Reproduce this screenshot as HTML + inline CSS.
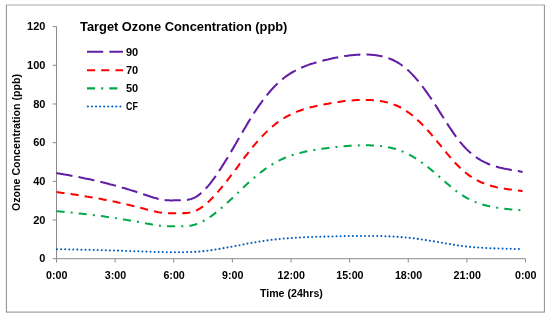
<!DOCTYPE html>
<html lang="en">
<head>
<meta charset="utf-8">
<title>Target Ozone Concentration (ppb)</title>
<style>
html,body{margin:0;padding:0;background:#fff;}
body{width:550px;height:316px;overflow:hidden;}
svg{display:block;}
text{font-family:'Liberation Sans', Arial, sans-serif;font-weight:bold;fill:#000;}
.lbl{font-size:11px;}
.ax{stroke:#8a8a8a;stroke-width:1;fill:none;}
.c{fill:none;stroke-width:2.05;stroke-linejoin:round;}
</style>
</head>
<body>
<svg width="550" height="316" viewBox="0 0 550 316">
<rect x="0" y="0" width="550" height="316" fill="#ffffff"/>
<path d="M6.4,5 V312.1 M544.4,5 V312.1" fill="none" stroke="#8c8c8c" stroke-width="1"/>
<path d="M5.9,5 H544.9" fill="none" stroke="#a8a8a8" stroke-width="1"/>
<path d="M5.9,312.1 H544.9" fill="none" stroke="#8c8c8c" stroke-width="1"/>

<path class="ax" d="M56.5,26.6 V258.7 H525.5"/>
<path class="ax" d="M52.7,258.70 H56.5 M52.7,220.02 H56.5 M52.7,181.33 H56.5 M52.7,142.65 H56.5 M52.7,103.97 H56.5 M52.7,65.28 H56.5 M52.7,26.60 H56.5 M56.50,258.7 V262.5 M115.12,258.7 V262.5 M173.75,258.7 V262.5 M232.38,258.7 V262.5 M291.00,258.7 V262.5 M349.62,258.7 V262.5 M408.25,258.7 V262.5 M466.88,258.7 V262.5 M525.50,258.7 V262.5"/>
<text class="lbl" x="45.4" y="262.35" text-anchor="end">0</text>
<text class="lbl" x="45.4" y="223.67" text-anchor="end">20</text>
<text class="lbl" x="45.4" y="184.98" text-anchor="end">40</text>
<text class="lbl" x="45.4" y="146.30" text-anchor="end">60</text>
<text class="lbl" x="45.4" y="107.62" text-anchor="end">80</text>
<text class="lbl" x="45.4" y="68.93" text-anchor="end">100</text>
<text class="lbl" x="45.4" y="30.25" text-anchor="end">120</text>
<text class="lbl" x="56.8" y="278.7" text-anchor="middle" textLength="21.4" lengthAdjust="spacingAndGlyphs">0:00</text>
<text class="lbl" x="115.4" y="278.7" text-anchor="middle" textLength="21.4" lengthAdjust="spacingAndGlyphs">3:00</text>
<text class="lbl" x="174.1" y="278.7" text-anchor="middle" textLength="21.4" lengthAdjust="spacingAndGlyphs">6:00</text>
<text class="lbl" x="232.7" y="278.7" text-anchor="middle" textLength="21.4" lengthAdjust="spacingAndGlyphs">9:00</text>
<text class="lbl" x="291.3" y="278.7" text-anchor="middle" textLength="27.4" lengthAdjust="spacingAndGlyphs">12:00</text>
<text class="lbl" x="349.9" y="278.7" text-anchor="middle" textLength="27.4" lengthAdjust="spacingAndGlyphs">15:00</text>
<text class="lbl" x="408.6" y="278.7" text-anchor="middle" textLength="27.4" lengthAdjust="spacingAndGlyphs">18:00</text>
<text class="lbl" x="467.2" y="278.7" text-anchor="middle" textLength="27.4" lengthAdjust="spacingAndGlyphs">21:00</text>
<text class="lbl" x="525.8" y="278.7" text-anchor="middle" textLength="21.4" lengthAdjust="spacingAndGlyphs">0:00</text>
<text x="80" y="31.2" font-size="12.85" textLength="207.4" lengthAdjust="spacingAndGlyphs">Target Ozone Concentration (ppb)</text>
<text x="291.4" y="297.1" font-size="10.8" text-anchor="middle" textLength="63" lengthAdjust="spacingAndGlyphs">Time (24hrs)</text>
<text transform="translate(20.3,142.5) rotate(-90)" font-size="10.6" text-anchor="middle" textLength="137" lengthAdjust="spacingAndGlyphs">Ozone Concentration (ppb)</text>
<path class="c" stroke="#621ea4" stroke-dasharray="16.24 6.09" d="M56.5,173.1 L58.0,173.4 L59.5,173.6 L61.0,173.9 L62.5,174.1 L64.0,174.4 L65.5,174.6 L67.0,174.9 L68.5,175.1 L70.0,175.4 L71.5,175.7 L73.0,176.0 L74.5,176.3 L76.0,176.5 L77.5,176.8 L79.0,177.1 L80.5,177.4 L82.0,177.7 L83.5,178.0 L85.0,178.4 L86.5,178.7 L88.0,179.0 L89.5,179.3 L91.0,179.6 L92.5,180.0 L94.0,180.3 L95.5,180.7 L97.0,181.0 L98.5,181.4 L100.0,181.7 L101.5,182.1 L103.0,182.4 L104.5,182.8 L106.0,183.2 L107.5,183.6 L109.0,184.0 L110.5,184.4 L112.0,184.7 L113.5,185.1 L115.0,185.6 L116.5,186.0 L118.0,186.4 L119.5,186.8 L121.0,187.2 L122.5,187.7 L124.0,188.1 L125.5,188.5 L127.0,189.0 L128.5,189.4 L130.0,189.9 L131.5,190.4 L133.0,190.8 L134.5,191.3 L136.0,191.8 L137.5,192.3 L139.0,192.7 L140.5,193.2 L142.0,193.7 L143.5,194.2 L145.0,194.8 L146.5,195.3 L148.0,195.8 L149.5,196.3 L151.0,196.8 L152.5,197.2 L154.0,197.7 L155.5,198.1 L157.0,198.5 L158.5,198.9 L160.0,199.2 L161.5,199.5 L163.0,199.8 L164.5,200.0 L166.0,200.2 L167.5,200.3 L169.0,200.3 L170.5,200.4 L172.0,200.4 L173.5,200.3 L175.0,200.3 L176.5,200.3 L178.0,200.3 L179.5,200.3 L181.0,200.2 L182.5,200.2 L184.0,200.1 L185.5,200.0 L187.0,199.9 L188.5,199.6 L190.0,199.3 L191.5,198.9 L193.0,198.3 L194.5,197.6 L196.0,196.8 L197.5,195.9 L199.0,194.8 L200.5,193.6 L202.0,192.3 L203.5,190.9 L205.0,189.4 L206.5,187.8 L208.0,186.1 L209.5,184.3 L211.0,182.4 L212.5,180.4 L214.0,178.4 L215.5,176.3 L217.0,174.1 L218.5,171.9 L220.0,169.6 L221.5,167.3 L223.0,164.9 L224.5,162.5 L226.0,160.1 L227.5,157.7 L229.0,155.2 L230.5,152.6 L232.0,150.1 L233.5,147.6 L235.0,145.0 L236.5,142.4 L238.0,139.8 L239.5,137.3 L241.0,134.7 L242.5,132.1 L244.0,129.5 L245.5,127.0 L247.0,124.4 L248.5,121.9 L250.0,119.5 L251.5,117.0 L253.0,114.6 L254.5,112.3 L256.0,110.1 L257.5,107.8 L259.0,105.7 L260.5,103.6 L262.0,101.5 L263.5,99.5 L265.0,97.6 L266.5,95.7 L268.0,93.8 L269.5,92.0 L271.0,90.3 L272.5,88.6 L274.0,87.0 L275.5,85.4 L277.0,84.0 L278.5,82.5 L280.0,81.2 L281.5,79.9 L283.0,78.7 L284.5,77.5 L286.0,76.4 L287.5,75.3 L289.0,74.3 L290.5,73.4 L292.0,72.5 L293.5,71.6 L295.0,70.8 L296.5,70.0 L298.0,69.2 L299.5,68.5 L301.0,67.8 L302.5,67.2 L304.0,66.6 L305.5,66.0 L307.0,65.4 L308.5,64.9 L310.0,64.3 L311.5,63.8 L313.0,63.4 L314.5,62.9 L316.0,62.5 L317.5,62.1 L319.0,61.6 L320.5,61.2 L322.0,60.9 L323.5,60.5 L325.0,60.1 L326.5,59.7 L328.0,59.4 L329.5,59.0 L331.0,58.7 L332.5,58.3 L334.0,58.0 L335.5,57.7 L337.0,57.4 L338.5,57.1 L340.0,56.9 L341.5,56.6 L343.0,56.3 L344.5,56.1 L346.0,55.9 L347.5,55.7 L349.0,55.5 L350.5,55.3 L352.0,55.2 L353.5,55.0 L355.0,54.9 L356.5,54.8 L358.0,54.7 L359.5,54.6 L361.0,54.6 L362.5,54.5 L364.0,54.5 L365.5,54.5 L367.0,54.5 L368.5,54.6 L370.0,54.7 L371.5,54.7 L373.0,54.9 L374.5,55.0 L376.0,55.2 L377.5,55.4 L379.0,55.7 L380.5,55.9 L382.0,56.3 L383.5,56.6 L385.0,57.1 L386.5,57.5 L388.0,58.0 L389.5,58.6 L391.0,59.2 L392.5,59.8 L394.0,60.5 L395.5,61.3 L397.0,62.1 L398.5,63.0 L400.0,64.0 L401.5,65.0 L403.0,66.1 L404.5,67.2 L406.0,68.5 L407.5,69.8 L409.0,71.1 L410.5,72.6 L412.0,74.1 L413.5,75.7 L415.0,77.4 L416.5,79.1 L418.0,80.9 L419.5,82.7 L421.0,84.6 L422.5,86.5 L424.0,88.5 L425.5,90.6 L427.0,92.7 L428.5,94.8 L430.0,97.0 L431.5,99.2 L433.0,101.4 L434.5,103.7 L436.0,106.0 L437.5,108.4 L439.0,110.7 L440.5,113.1 L442.0,115.5 L443.5,117.8 L445.0,120.2 L446.5,122.5 L448.0,124.9 L449.5,127.2 L451.0,129.4 L452.5,131.6 L454.0,133.8 L455.5,135.9 L457.0,138.0 L458.5,139.9 L460.0,141.8 L461.5,143.6 L463.0,145.4 L464.5,147.0 L466.0,148.6 L467.5,150.1 L469.0,151.5 L470.5,152.8 L472.0,154.1 L473.5,155.3 L475.0,156.4 L476.5,157.5 L478.0,158.5 L479.5,159.4 L481.0,160.3 L482.5,161.1 L484.0,161.9 L485.5,162.6 L487.0,163.3 L488.5,164.0 L490.0,164.6 L491.5,165.1 L493.0,165.7 L494.5,166.1 L496.0,166.6 L497.5,167.0 L499.0,167.4 L500.5,167.8 L502.0,168.1 L503.5,168.5 L505.0,168.8 L506.5,169.1 L508.0,169.3 L509.5,169.6 L511.0,169.9 L512.5,170.1 L514.0,170.4 L515.5,170.6 L517.0,170.9 L518.5,171.1 L520.0,171.4 L521.5,171.7 L522.6,171.9"/>
<path class="c" stroke="#ff0000" stroke-dasharray="8.12 6.09" d="M56.5,192.1 L58.0,192.3 L59.5,192.5 L61.0,192.7 L62.5,192.9 L64.0,193.1 L65.5,193.3 L67.0,193.5 L68.5,193.7 L70.0,193.9 L71.5,194.1 L73.0,194.4 L74.5,194.6 L76.0,194.8 L77.5,195.0 L79.0,195.3 L80.5,195.5 L82.0,195.7 L83.5,196.0 L85.0,196.2 L86.5,196.5 L88.0,196.7 L89.5,197.0 L91.0,197.2 L92.5,197.5 L94.0,197.7 L95.5,198.0 L97.0,198.3 L98.5,198.5 L100.0,198.8 L101.5,199.1 L103.0,199.4 L104.5,199.7 L106.0,200.0 L107.5,200.3 L109.0,200.6 L110.5,200.9 L112.0,201.2 L113.5,201.5 L115.0,201.8 L116.5,202.1 L118.0,202.5 L119.5,202.8 L121.0,203.1 L122.5,203.4 L124.0,203.8 L125.5,204.1 L127.0,204.5 L128.5,204.8 L130.0,205.2 L131.5,205.5 L133.0,205.9 L134.5,206.3 L136.0,206.6 L137.5,207.0 L139.0,207.4 L140.5,207.8 L142.0,208.2 L143.5,208.6 L145.0,209.0 L146.5,209.4 L148.0,209.8 L149.5,210.1 L151.0,210.5 L152.5,210.9 L154.0,211.2 L155.5,211.6 L157.0,211.9 L158.5,212.2 L160.0,212.4 L161.5,212.7 L163.0,212.9 L164.5,213.0 L166.0,213.2 L167.5,213.3 L169.0,213.3 L170.5,213.3 L172.0,213.3 L173.5,213.3 L175.0,213.3 L176.5,213.3 L178.0,213.3 L179.5,213.2 L181.0,213.2 L182.5,213.2 L184.0,213.1 L185.5,213.1 L187.0,212.9 L188.5,212.8 L190.0,212.5 L191.5,212.2 L193.0,211.7 L194.5,211.2 L196.0,210.6 L197.5,209.8 L199.0,209.0 L200.5,208.1 L202.0,207.1 L203.5,206.0 L205.0,204.8 L206.5,203.5 L208.0,202.2 L209.5,200.8 L211.0,199.3 L212.5,197.8 L214.0,196.2 L215.5,194.6 L217.0,192.9 L218.5,191.2 L220.0,189.4 L221.5,187.6 L223.0,185.8 L224.5,183.9 L226.0,182.0 L227.5,180.1 L229.0,178.2 L230.5,176.2 L232.0,174.2 L233.5,172.3 L235.0,170.3 L236.5,168.3 L238.0,166.3 L239.5,164.2 L241.0,162.2 L242.5,160.2 L244.0,158.2 L245.5,156.2 L247.0,154.3 L248.5,152.3 L250.0,150.4 L251.5,148.5 L253.0,146.7 L254.5,144.9 L256.0,143.1 L257.5,141.4 L259.0,139.7 L260.5,138.0 L262.0,136.4 L263.5,134.9 L265.0,133.4 L266.5,131.9 L268.0,130.5 L269.5,129.1 L271.0,127.7 L272.5,126.4 L274.0,125.2 L275.5,123.9 L277.0,122.8 L278.5,121.7 L280.0,120.6 L281.5,119.6 L283.0,118.7 L284.5,117.8 L286.0,116.9 L287.5,116.1 L289.0,115.3 L290.5,114.6 L292.0,113.8 L293.5,113.2 L295.0,112.5 L296.5,111.9 L298.0,111.3 L299.5,110.8 L301.0,110.2 L302.5,109.7 L304.0,109.3 L305.5,108.8 L307.0,108.4 L308.5,107.9 L310.0,107.5 L311.5,107.1 L313.0,106.8 L314.5,106.4 L316.0,106.1 L317.5,105.8 L319.0,105.4 L320.5,105.1 L322.0,104.8 L323.5,104.5 L325.0,104.2 L326.5,103.9 L328.0,103.7 L329.5,103.4 L331.0,103.1 L332.5,102.9 L334.0,102.6 L335.5,102.4 L337.0,102.1 L338.5,101.9 L340.0,101.7 L341.5,101.5 L343.0,101.3 L344.5,101.1 L346.0,101.0 L347.5,100.8 L349.0,100.7 L350.5,100.5 L352.0,100.4 L353.5,100.3 L355.0,100.2 L356.5,100.1 L358.0,100.0 L359.5,100.0 L361.0,99.9 L362.5,99.9 L364.0,99.9 L365.5,99.9 L367.0,99.9 L368.5,99.9 L370.0,100.0 L371.5,100.1 L373.0,100.2 L374.5,100.3 L376.0,100.4 L377.5,100.6 L379.0,100.8 L380.5,101.0 L382.0,101.3 L383.5,101.5 L385.0,101.9 L386.5,102.2 L388.0,102.6 L389.5,103.0 L391.0,103.5 L392.5,104.0 L394.0,104.6 L395.5,105.2 L397.0,105.8 L398.5,106.5 L400.0,107.2 L401.5,108.0 L403.0,108.9 L404.5,109.8 L406.0,110.7 L407.5,111.8 L409.0,112.8 L410.5,114.0 L412.0,115.1 L413.5,116.4 L415.0,117.7 L416.5,119.0 L418.0,120.4 L419.5,121.8 L421.0,123.3 L422.5,124.8 L424.0,126.3 L425.5,127.9 L427.0,129.6 L428.5,131.2 L430.0,132.9 L431.5,134.6 L433.0,136.4 L434.5,138.1 L436.0,139.9 L437.5,141.8 L439.0,143.6 L440.5,145.4 L442.0,147.3 L443.5,149.1 L445.0,151.0 L446.5,152.8 L448.0,154.6 L449.5,156.4 L451.0,158.1 L452.5,159.9 L454.0,161.6 L455.5,163.2 L457.0,164.8 L458.5,166.3 L460.0,167.8 L461.5,169.2 L463.0,170.6 L464.5,171.8 L466.0,173.0 L467.5,174.2 L469.0,175.3 L470.5,176.3 L472.0,177.3 L473.5,178.2 L475.0,179.1 L476.5,180.0 L478.0,180.7 L479.5,181.5 L481.0,182.2 L482.5,182.8 L484.0,183.4 L485.5,184.0 L487.0,184.5 L488.5,185.0 L490.0,185.5 L491.5,185.9 L493.0,186.3 L494.5,186.7 L496.0,187.1 L497.5,187.4 L499.0,187.7 L500.5,188.0 L502.0,188.3 L503.5,188.5 L505.0,188.8 L506.5,189.0 L508.0,189.2 L509.5,189.4 L511.0,189.6 L512.5,189.8 L514.0,190.0 L515.5,190.2 L517.0,190.4 L518.5,190.6 L520.0,190.8 L521.5,191.0 L522.6,191.2"/>
<path class="c" stroke="#00aa4a" stroke-dasharray="8.12 6.09 2.03 6.09" d="M56.5,211.2 L58.0,211.3 L59.5,211.4 L61.0,211.6 L62.5,211.7 L64.0,211.8 L65.5,212.0 L67.0,212.1 L68.5,212.3 L70.0,212.4 L71.5,212.6 L73.0,212.7 L74.5,212.9 L76.0,213.1 L77.5,213.2 L79.0,213.4 L80.5,213.5 L82.0,213.7 L83.5,213.9 L85.0,214.1 L86.5,214.2 L88.0,214.4 L89.5,214.6 L91.0,214.8 L92.5,215.0 L94.0,215.2 L95.5,215.3 L97.0,215.5 L98.5,215.7 L100.0,215.9 L101.5,216.1 L103.0,216.3 L104.5,216.5 L106.0,216.8 L107.5,217.0 L109.0,217.2 L110.5,217.4 L112.0,217.6 L113.5,217.8 L115.0,218.1 L116.5,218.3 L118.0,218.5 L119.5,218.8 L121.0,219.0 L122.5,219.2 L124.0,219.5 L125.5,219.7 L127.0,220.0 L128.5,220.2 L130.0,220.5 L131.5,220.7 L133.0,221.0 L134.5,221.3 L136.0,221.5 L137.5,221.8 L139.0,222.1 L140.5,222.3 L142.0,222.6 L143.5,222.9 L145.0,223.2 L146.5,223.5 L148.0,223.7 L149.5,224.0 L151.0,224.3 L152.5,224.6 L154.0,224.8 L155.5,225.0 L157.0,225.3 L158.5,225.5 L160.0,225.7 L161.5,225.8 L163.0,226.0 L164.5,226.1 L166.0,226.2 L167.5,226.2 L169.0,226.3 L170.5,226.3 L172.0,226.3 L173.5,226.3 L175.0,226.3 L176.5,226.2 L178.0,226.2 L179.5,226.2 L181.0,226.2 L182.5,226.2 L184.0,226.2 L185.5,226.1 L187.0,226.0 L188.5,225.9 L190.0,225.7 L191.5,225.5 L193.0,225.1 L194.5,224.8 L196.0,224.3 L197.5,223.8 L199.0,223.2 L200.5,222.6 L202.0,221.8 L203.5,221.0 L205.0,220.2 L206.5,219.3 L208.0,218.3 L209.5,217.3 L211.0,216.3 L212.5,215.2 L214.0,214.1 L215.5,212.9 L217.0,211.7 L218.5,210.5 L220.0,209.2 L221.5,207.9 L223.0,206.6 L224.5,205.3 L226.0,203.9 L227.5,202.6 L229.0,201.2 L230.5,199.8 L232.0,198.4 L233.5,197.0 L235.0,195.5 L236.5,194.1 L238.0,192.7 L239.5,191.2 L241.0,189.8 L242.5,188.4 L244.0,186.9 L245.5,185.5 L247.0,184.1 L248.5,182.7 L250.0,181.3 L251.5,180.0 L253.0,178.7 L254.5,177.4 L256.0,176.1 L257.5,174.9 L259.0,173.7 L260.5,172.5 L262.0,171.4 L263.5,170.3 L265.0,169.2 L266.5,168.1 L268.0,167.1 L269.5,166.1 L271.0,165.1 L272.5,164.2 L274.0,163.3 L275.5,162.4 L277.0,161.6 L278.5,160.8 L280.0,160.1 L281.5,159.4 L283.0,158.7 L284.5,158.0 L286.0,157.4 L287.5,156.8 L289.0,156.3 L290.5,155.7 L292.0,155.2 L293.5,154.7 L295.0,154.3 L296.5,153.8 L298.0,153.4 L299.5,153.0 L301.0,152.7 L302.5,152.3 L304.0,152.0 L305.5,151.6 L307.0,151.3 L308.5,151.0 L310.0,150.7 L311.5,150.4 L313.0,150.2 L314.5,149.9 L316.0,149.7 L317.5,149.5 L319.0,149.2 L320.5,149.0 L322.0,148.8 L323.5,148.6 L325.0,148.4 L326.5,148.2 L328.0,148.0 L329.5,147.8 L331.0,147.6 L332.5,147.4 L334.0,147.2 L335.5,147.0 L337.0,146.9 L338.5,146.7 L340.0,146.6 L341.5,146.4 L343.0,146.3 L344.5,146.2 L346.0,146.0 L347.5,145.9 L349.0,145.8 L350.5,145.7 L352.0,145.6 L353.5,145.5 L355.0,145.5 L356.5,145.4 L358.0,145.4 L359.5,145.3 L361.0,145.3 L362.5,145.3 L364.0,145.3 L365.5,145.3 L367.0,145.3 L368.5,145.3 L370.0,145.3 L371.5,145.4 L373.0,145.5 L374.5,145.5 L376.0,145.6 L377.5,145.8 L379.0,145.9 L380.5,146.1 L382.0,146.2 L383.5,146.4 L385.0,146.7 L386.5,146.9 L388.0,147.2 L389.5,147.5 L391.0,147.8 L392.5,148.2 L394.0,148.6 L395.5,149.0 L397.0,149.5 L398.5,150.0 L400.0,150.5 L401.5,151.1 L403.0,151.7 L404.5,152.3 L406.0,153.0 L407.5,153.7 L409.0,154.5 L410.5,155.3 L412.0,156.2 L413.5,157.0 L415.0,158.0 L416.5,158.9 L418.0,159.9 L419.5,160.9 L421.0,162.0 L422.5,163.1 L424.0,164.2 L425.5,165.3 L427.0,166.5 L428.5,167.6 L430.0,168.8 L431.5,170.1 L433.0,171.3 L434.5,172.6 L436.0,173.9 L437.5,175.2 L439.0,176.5 L440.5,177.8 L442.0,179.1 L443.5,180.4 L445.0,181.7 L446.5,183.1 L448.0,184.3 L449.5,185.6 L451.0,186.9 L452.5,188.1 L454.0,189.3 L455.5,190.5 L457.0,191.6 L458.5,192.7 L460.0,193.8 L461.5,194.8 L463.0,195.7 L464.5,196.7 L466.0,197.5 L467.5,198.3 L469.0,199.1 L470.5,199.9 L472.0,200.6 L473.5,201.2 L475.0,201.9 L476.5,202.5 L478.0,203.0 L479.5,203.5 L481.0,204.0 L482.5,204.5 L484.0,204.9 L485.5,205.3 L487.0,205.7 L488.5,206.1 L490.0,206.4 L491.5,206.7 L493.0,207.0 L494.5,207.3 L496.0,207.5 L497.5,207.8 L499.0,208.0 L500.5,208.2 L502.0,208.4 L503.5,208.6 L505.0,208.7 L506.5,208.9 L508.0,209.1 L509.5,209.2 L511.0,209.4 L512.5,209.5 L514.0,209.6 L515.5,209.8 L517.0,209.9 L518.5,210.0 L520.0,210.2 L521.5,210.3 L522.6,210.5"/>
<path class="c" stroke="#005ec6" stroke-width="2.15" stroke-linecap="round" stroke-dasharray="0.01 4.06" stroke-dashoffset="-0.5" d="M56.5,249.2 L58.0,249.2 L59.5,249.2 L61.0,249.2 L62.5,249.3 L64.0,249.3 L65.5,249.3 L67.0,249.4 L68.5,249.4 L70.0,249.4 L71.5,249.4 L73.0,249.5 L74.5,249.5 L76.0,249.5 L77.5,249.6 L79.0,249.6 L80.5,249.6 L82.0,249.7 L83.5,249.7 L85.0,249.7 L86.5,249.8 L88.0,249.8 L89.5,249.8 L91.0,249.9 L92.5,249.9 L94.0,250.0 L95.5,250.0 L97.0,250.0 L98.5,250.1 L100.0,250.1 L101.5,250.2 L103.0,250.2 L104.5,250.2 L106.0,250.3 L107.5,250.3 L109.0,250.4 L110.5,250.4 L112.0,250.5 L113.5,250.5 L115.0,250.5 L116.5,250.6 L118.0,250.6 L119.5,250.7 L121.0,250.7 L122.5,250.8 L124.0,250.8 L125.5,250.9 L127.0,250.9 L128.5,251.0 L130.0,251.0 L131.5,251.1 L133.0,251.1 L134.5,251.2 L136.0,251.2 L137.5,251.3 L139.0,251.3 L140.5,251.4 L142.0,251.5 L143.5,251.5 L145.0,251.6 L146.5,251.6 L148.0,251.7 L149.5,251.7 L151.0,251.8 L152.5,251.8 L154.0,251.9 L155.5,251.9 L157.0,252.0 L158.5,252.0 L160.0,252.1 L161.5,252.1 L163.0,252.1 L164.5,252.2 L166.0,252.2 L167.5,252.2 L169.0,252.2 L170.5,252.2 L172.0,252.2 L173.5,252.2 L175.0,252.2 L176.5,252.2 L178.0,252.2 L179.5,252.2 L181.0,252.2 L182.5,252.2 L184.0,252.2 L185.5,252.2 L187.0,252.1 L188.5,252.1 L190.0,252.1 L191.5,252.0 L193.0,252.0 L194.5,251.9 L196.0,251.8 L197.5,251.7 L199.0,251.6 L200.5,251.4 L202.0,251.3 L203.5,251.1 L205.0,251.0 L206.5,250.8 L208.0,250.6 L209.5,250.4 L211.0,250.2 L212.5,250.0 L214.0,249.7 L215.5,249.5 L217.0,249.3 L218.5,249.0 L220.0,248.8 L221.5,248.5 L223.0,248.2 L224.5,248.0 L226.0,247.7 L227.5,247.4 L229.0,247.2 L230.5,246.9 L232.0,246.6 L233.5,246.3 L235.0,246.0 L236.5,245.7 L238.0,245.4 L239.5,245.2 L241.0,244.9 L242.5,244.6 L244.0,244.3 L245.5,244.0 L247.0,243.7 L248.5,243.4 L250.0,243.2 L251.5,242.9 L253.0,242.6 L254.5,242.4 L256.0,242.1 L257.5,241.9 L259.0,241.6 L260.5,241.4 L262.0,241.2 L263.5,241.0 L265.0,240.7 L266.5,240.5 L268.0,240.3 L269.5,240.1 L271.0,239.9 L272.5,239.7 L274.0,239.6 L275.5,239.4 L277.0,239.2 L278.5,239.1 L280.0,238.9 L281.5,238.8 L283.0,238.6 L284.5,238.5 L286.0,238.4 L287.5,238.3 L289.0,238.1 L290.5,238.0 L292.0,237.9 L293.5,237.8 L295.0,237.7 L296.5,237.7 L298.0,237.6 L299.5,237.5 L301.0,237.4 L302.5,237.3 L304.0,237.3 L305.5,237.2 L307.0,237.1 L308.5,237.1 L310.0,237.0 L311.5,237.0 L313.0,236.9 L314.5,236.9 L316.0,236.8 L317.5,236.8 L319.0,236.7 L320.5,236.7 L322.0,236.6 L323.5,236.6 L325.0,236.6 L326.5,236.5 L328.0,236.5 L329.5,236.4 L331.0,236.4 L332.5,236.4 L334.0,236.3 L335.5,236.3 L337.0,236.3 L338.5,236.2 L340.0,236.2 L341.5,236.2 L343.0,236.1 L344.5,236.1 L346.0,236.1 L347.5,236.1 L349.0,236.0 L350.5,236.0 L352.0,236.0 L353.5,236.0 L355.0,236.0 L356.5,236.0 L358.0,236.0 L359.5,235.9 L361.0,235.9 L362.5,235.9 L364.0,235.9 L365.5,235.9 L367.0,235.9 L368.5,235.9 L370.0,235.9 L371.5,236.0 L373.0,236.0 L374.5,236.0 L376.0,236.0 L377.5,236.0 L379.0,236.1 L380.5,236.1 L382.0,236.1 L383.5,236.2 L385.0,236.2 L386.5,236.3 L388.0,236.3 L389.5,236.4 L391.0,236.5 L392.5,236.5 L394.0,236.6 L395.5,236.7 L397.0,236.8 L398.5,236.9 L400.0,237.0 L401.5,237.1 L403.0,237.2 L404.5,237.4 L406.0,237.5 L407.5,237.6 L409.0,237.8 L410.5,237.9 L412.0,238.1 L413.5,238.3 L415.0,238.5 L416.5,238.7 L418.0,238.9 L419.5,239.1 L421.0,239.3 L422.5,239.5 L424.0,239.7 L425.5,240.0 L427.0,240.2 L428.5,240.4 L430.0,240.7 L431.5,240.9 L433.0,241.2 L434.5,241.4 L436.0,241.7 L437.5,241.9 L439.0,242.2 L440.5,242.5 L442.0,242.7 L443.5,243.0 L445.0,243.3 L446.5,243.5 L448.0,243.8 L449.5,244.0 L451.0,244.3 L452.5,244.5 L454.0,244.8 L455.5,245.0 L457.0,245.2 L458.5,245.5 L460.0,245.7 L461.5,245.9 L463.0,246.1 L464.5,246.2 L466.0,246.4 L467.5,246.6 L469.0,246.7 L470.5,246.9 L472.0,247.0 L473.5,247.2 L475.0,247.3 L476.5,247.4 L478.0,247.5 L479.5,247.6 L481.0,247.7 L482.5,247.8 L484.0,247.9 L485.5,248.0 L487.0,248.1 L488.5,248.1 L490.0,248.2 L491.5,248.3 L493.0,248.3 L494.5,248.4 L496.0,248.4 L497.5,248.5 L499.0,248.5 L500.5,248.6 L502.0,248.6 L503.5,248.6 L505.0,248.7 L506.5,248.7 L508.0,248.7 L509.5,248.8 L511.0,248.8 L512.5,248.8 L514.0,248.9 L515.5,248.9 L517.0,248.9 L518.5,248.9 L520.0,249.0 L521.5,249.0 L522.6,249.0"/>
<path class="c" stroke="#621ea4" stroke-dasharray="16.24 6.09" d="M87,51.7 H123"/>
<path class="c" stroke="#ff0000" stroke-dasharray="8.12 6.09" d="M87,70.15 H123"/>
<path class="c" stroke="#00aa4a" stroke-dasharray="8.12 6.09 2.03 6.09" d="M87,88.35 H123"/>
<path class="c" stroke="#005ec6" stroke-width="2.15" stroke-linecap="round" stroke-dasharray="0.01 4.05" d="M87.9,106.55 H121"/>
<text class="lbl" x="126" y="55.6">90</text>
<text class="lbl" x="126" y="74.0">70</text>
<text class="lbl" x="126" y="92.2">50</text>
<text class="lbl" x="126" y="110.4" textLength="11.8" lengthAdjust="spacingAndGlyphs">CF</text>
</svg>
</body>
</html>
